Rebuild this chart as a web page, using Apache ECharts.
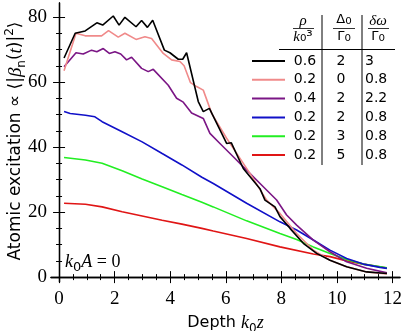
<!DOCTYPE html>
<html>
<head>
<meta charset="utf-8">
<script src="https://cdn.jsdelivr.net/npm/echarts@6/dist/echarts.min.js"></script>
<style>html,body{margin:0;padding:0;background:#fff}#c{width:407px;height:331px}</style>
</head>
<body>
<div id="c"></div>
<script>
// ---- data ----
const black = [[0.18,67.4],[0.58,75],[0.94,75.7],[1.36,78.2],[1.57,77.5],[1.95,80.3],[2.16,77.5],[2.37,79.9],[2.77,77],[2.97,78.9],[3.18,76.8],[3.37,79],[3.79,69.8],[3.99,69],[4.29,67],[4.45,67],[4.59,69],[5.01,54],[5.19,50.9],[5.41,51.9],[6.03,41.1],[6.2,41.3],[6.63,33.4],[7.23,27.2],[7.41,23.7],[7.77,21.6],[7.95,18.6],[8.31,15],[8.79,10.4],[9.27,7.3],[9.75,5.2],[10.35,3.2],[11.07,1.6],[11.8,1.1]];
const pink = [[0.18,63.5],[0.61,75],[0.94,74.2],[1.53,74.2],[1.78,75.8],[2.13,73.8],[2.37,75],[2.77,73.1],[3.09,73.9],[3.33,73.4],[3.75,68.8],[4.05,66.8],[4.35,66.3],[4.5,65],[4.73,59.8],[4.95,58.6],[5.19,57.5],[5.5,50.2],[6.03,42.7],[6.87,31.9],[7.47,23.7],[7.95,19.6],[8.55,13.4],[9.15,8.3],[9.75,5.2],[10.35,3.2],[11.07,1.6],[11.8,1]];
const purple = [[0.18,64.7],[0.61,69],[0.87,68.6],[1.17,69.8],[1.36,69.3],[1.59,70.3],[1.81,68.8],[2.01,69.3],[2.22,68.6],[2.43,66.8],[2.61,67.6],[2.97,64.2],[3.21,63.2],[3.39,63.9],[3.93,59],[4.23,55],[4.47,53.8],[4.77,50.5],[5.19,48.8],[5.43,44.2],[5.79,41.1],[6.27,37],[6.75,32.9],[7.35,27.8],[7.83,23.7],[8.19,19.1],[8.55,16],[9.15,11.4],[9.75,7.8],[10.35,4.7],[11.07,2.7],[11.8,1.3]];
const blue = [[0.18,50.9],[0.4,50.3],[0.95,49.8],[1.29,49.3],[1.55,47.8],[2.27,44.7],[2.99,41.6],[3.71,38],[4.42,34.5],[5.14,30.7],[5.55,28.8],[6.75,22.7],[7.95,17],[8.55,14.5],[9.15,11.4],[9.75,8.3],[10.35,5.7],[10.95,4],[11.55,3],[11.8,2.7]];
const green = [[0.18,36.8],[0.95,36],[1.55,35],[2.27,32.7],[2.99,30.2],[3.71,27.8],[4.42,25.4],[5.14,23],[5.55,21.6],[6.75,17.3],[7.95,13.4],[8.55,11.6],[9.15,9.3],[9.75,7.3],[10.35,5.4],[10.95,4],[11.8,2.9]];
const red = [[0.18,22.7],[0.95,22.4],[1.55,21.6],[2.27,20.1],[2.99,18.8],[3.71,17.5],[4.42,16.3],[5.14,15],[5.55,14.2],[6.75,11.9],[7.95,9.3],[9.15,7.1],[9.75,6.3],[10.35,5],[10.95,4],[11.8,2.8]];

const rhoVals = ['0.6','0.2','0.4','0.2','0.2','0.2'];
const deltaVals = ['2','0','2','2','3','5'];
const domegaVals = ['3','0.8','2.2','0.8','0.8','0.8'];

const xMajor = [0,2,4,6,8,10,12];
const yMajor = [0,20,40,60,80];
const xMinor = []; for (let v = 0; v <= 12; v += 0.5) xMinor.push(v);
const yMinor = []; for (let v = 0; v <= 80; v += 5) yMinor.push(v);

// ---- styling ----
const colors = ['#000000','#f08a8a','#7b1685','#1010c8','#22ee22','#e01515'];
const seriesData = [black, pink, purple, blue, green, red];
const serif = 'Liberation Serif';
const sans = 'DejaVu Sans';
const X0 = -0.29, X1 = 12.27, Y0 = -1.5, Y1 = 84.3;

function xAx(pos, ticks, len, labels, showLine){
  return {type:'value', position:pos, min:X0, max:X1,
    axisLine:{show:showLine, lineStyle:{color:'#000', width:1.3}},
    axisTick:{show:true, inside:true, length:len, customValues:ticks, lineStyle:{color:'#000', width:1}},
    axisLabel: labels ? {show:true, customValues:xMajor, color:'#000', fontFamily:serif, fontSize:19, margin:8} : {show:false},
    splitLine:{show:false}};
}
function yAx(pos, ticks, len, labels, showLine){
  return {type:'value', position:pos, min:Y0, max:Y1,
    axisLine:{show:showLine, lineStyle:{color:'#000', width:1.3}},
    axisTick:{show:true, inside:true, length:len, customValues:ticks, lineStyle:{color:'#000', width:1}},
    axisLabel: labels ? {show:true, customValues:yMajor, color:'#000', fontFamily:serif, fontSize:19, margin:4} : {show:false},
    splitLine:{show:false}};
}

// rich styles for math-ish text
function mathRich(base, it, sub, col){
  return {
    r:{fontFamily:sans, fontSize:base, lineHeight:24, verticalAlign:'middle', color:col, fill:col},
    it:{fontFamily:serif, fontStyle:'italic', fontSize:it, lineHeight:24, verticalAlign:'middle', color:col, fill:col},
    sub:{fontFamily:sans, fontSize:sub, lineHeight:sub, verticalAlign:'bottom', color:col, fill:col},
    sup:{fontFamily:sans, fontSize:sub, lineHeight:sub, verticalAlign:'top', color:col, fill:col}
  };
}

const xAxes = [xAx('bottom', xMajor, 6, true, true), xAx('bottom', xMinor, 3, false, false),
               xAx('top', xMajor, 6, false, true), xAx('top', xMinor, 3, false, false)];
xAxes[0].name = '{r|Depth }{it|k}{sub|0}{it|z}';
xAxes[0].nameLocation = 'middle';
xAxes[0].nameGap = 26;
xAxes[0].nameTextStyle = {fontFamily:sans, fontSize:16, color:'#000', rich:mathRich(16, 18, 12, '#000')};

const yAxes = [yAx('left', yMajor, 6, true, true), yAx('left', yMinor, 3, false, false),
               yAx('right', yMajor, 6, false, true), yAx('right', yMinor, 3, false, false)];

const series = seriesData.map((d,i)=>({type:'line', data:d, xAxisIndex:0, yAxisIndex:0,
  showSymbol:false, symbol:'none', lineStyle:{color:colors[i], width:1.6}, z: 10 - i, silent:true}));

const gfx = [];
// y-axis title (rotated text placed directly)
gfx.push({type:'text', x:16, y:141, rotation:Math.PI/2,
  style:{text:'{r|Atomic excitation ∝ ⟨|}{it|β}{sub|n}{r|(}{it|t}{r|)|}{sup|2}{r|⟩}',
    align:'center', verticalAlign:'middle', rich:mathRich(17, 19, 12, '#000')}});

// legend table
const rowY0 = 61, rowDy = 18.8;
for (let i = 0; i < 6; i++) {
  const y = rowY0 + i*rowDy;
  gfx.push({type:'line', shape:{x1:252, y1:y, x2:285, y2:y}, style:{stroke:colors[i], lineWidth:2}});
  gfx.push({type:'text', x:305, y:y, style:{text:rhoVals[i], font:'14px "DejaVu Sans"', fill:'#000', align:'center', verticalAlign:'middle'}});
  gfx.push({type:'text', x:341, y:y, style:{text:deltaVals[i], font:'14px "DejaVu Sans"', fill:'#000', align:'center', verticalAlign:'middle'}});
  gfx.push({type:'text', x:365, y:y, style:{text:domegaVals[i], font:'14px "DejaVu Sans"', fill:'#000', align:'left', verticalAlign:'middle'}});
}
gfx.push({type:'line', shape:{x1:322, y1:15, x2:322, y2:165}, style:{stroke:'#000', lineWidth:1}});
gfx.push({type:'line', shape:{x1:362, y1:15, x2:362, y2:165}, style:{stroke:'#000', lineWidth:1}});
gfx.push({type:'line', shape:{x1:279, y1:49.5, x2:395, y2:49.5}, style:{stroke:'#000', lineWidth:1}});
// headers
const hdrRich = {it:{fontFamily:serif, fontStyle:'italic', fontSize:15, fill:'#000'}, n:{fontFamily:sans, fontSize:13, fill:'#000'}, s:{fontFamily:sans, fontSize:16, fill:'#000'}};
gfx.push({type:'text', x:303, y:21, style:{text:'{it|ρ}', align:'center', verticalAlign:'middle', rich:hdrRich}});
gfx.push({type:'line', shape:{x1:293, y1:28.5, x2:314, y2:28.5}, style:{stroke:'#000', lineWidth:0.8}});
gfx.push({type:'text', x:303, y:37, style:{text:'{it|k}{s|₀³}', align:'center', verticalAlign:'middle', rich:hdrRich}});
gfx.push({type:'text', x:344, y:20, style:{text:'{n|Δ}{s|₀}', align:'center', verticalAlign:'middle', rich:hdrRich}});
gfx.push({type:'line', shape:{x1:333, y1:28.5, x2:355, y2:28.5}, style:{stroke:'#000', lineWidth:0.8}});
gfx.push({type:'text', x:344, y:37, style:{text:'{n|Γ}{s|₀}', align:'center', verticalAlign:'middle', rich:hdrRich}});
gfx.push({type:'text', x:378, y:21, style:{text:'{it|δω}', align:'center', verticalAlign:'middle', rich:hdrRich}});
gfx.push({type:'line', shape:{x1:368, y1:28.5, x2:389, y2:28.5}, style:{stroke:'#000', lineWidth:0.8}});
gfx.push({type:'text', x:378, y:37, style:{text:'{n|Γ}{s|₀}', align:'center', verticalAlign:'middle', rich:hdrRich}});
// k0A = 0 annotation
gfx.push({type:'text', x:65, y:262, style:{text:'{it|k}{sub|0}{it|A}{r| = 0}', align:'left', verticalAlign:'middle',
  rich:Object.assign(mathRich(18, 18, 13, '#000'), {r:{fontFamily:serif, fontSize:18, lineHeight:24, verticalAlign:'middle', fill:'#000'}})}});

const chart = echarts.init(document.getElementById('c'), null, {renderer:'canvas'});
chart.setOption({
  animation:false,
  backgroundColor:'#fff',
  grid:{left:51, right:7, top:3, bottom:49, containLabel:false, outerBoundsMode:'none'},
  xAxis:xAxes, yAxis:yAxes, series:series, graphic:gfx
});
</script>
</body>
</html>
